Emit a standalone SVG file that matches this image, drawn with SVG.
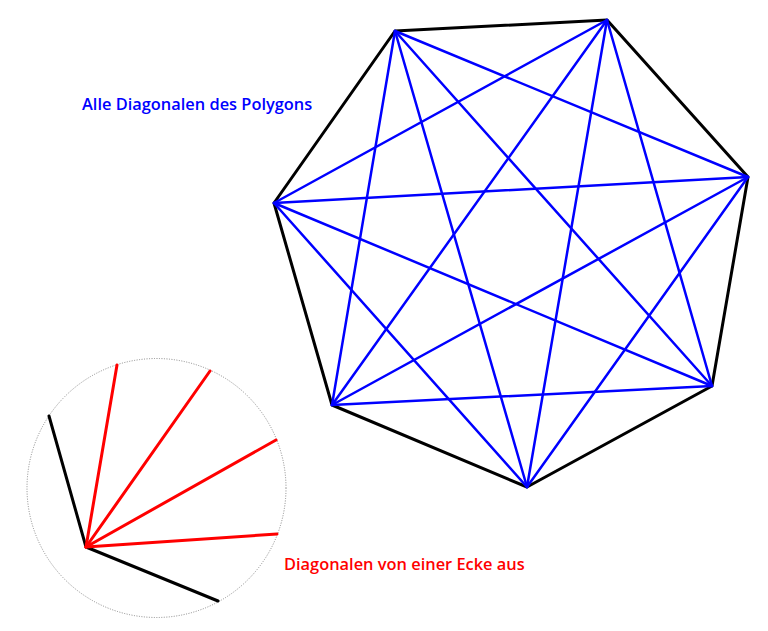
<svg xmlns="http://www.w3.org/2000/svg" width="768" height="631" viewBox="0 0 768 631">
<style>
.edge{stroke:#000;stroke-width:3;fill:none;stroke-linecap:round;stroke-linejoin:round}
.diag{stroke:#0000ff;stroke-width:2.5;stroke-linecap:round}
.red{stroke:#ff0000;stroke-width:3;stroke-linecap:round}
.lbl{font-family:"Open Sans","Liberation Sans",sans-serif;font-weight:600;font-size:16.4px}
</style>
<rect width="768" height="631" fill="#fff"/>
<g id="polygon">
<polygon class="edge" points="395,31 607,20 748,177 712,386 527,487 332,405 274,203"/>
</g>
<g id="connectors">
<line class="diag" x1="395" y1="31" x2="748" y2="177"/>
<line class="diag" x1="395" y1="31" x2="712" y2="386"/>
<line class="diag" x1="395" y1="31" x2="527" y2="487"/>
<line class="diag" x1="395" y1="31" x2="332" y2="405"/>
<line class="diag" x1="607" y1="20" x2="712" y2="386"/>
<line class="diag" x1="607" y1="20" x2="527" y2="487"/>
<line class="diag" x1="607" y1="20" x2="332" y2="405"/>
<line class="diag" x1="607" y1="20" x2="274" y2="203"/>
<line class="diag" x1="748" y1="177" x2="527" y2="487"/>
<line class="diag" x1="748" y1="177" x2="332" y2="405"/>
<line class="diag" x1="748" y1="177" x2="274" y2="203"/>
<line class="diag" x1="712" y1="386" x2="332" y2="405"/>
<line class="diag" x1="712" y1="386" x2="274" y2="203"/>
<line class="diag" x1="527" y1="487" x2="274" y2="203"/>
</g>
<g id="detail">
<circle cx="156.5" cy="488" r="129.5" fill="none" stroke="#888" stroke-width="1" stroke-dasharray="1,1.5"/>
<polyline class="edge" points="49,416 86,547 218,601"/>
<line class="red" x1="86" y1="547" x2="117" y2="365"/>
<line class="red" x1="86" y1="547" x2="210" y2="371"/>
<line class="red" x1="86" y1="547" x2="276" y2="440"/>
<line class="red" x1="86" y1="547" x2="277" y2="534"/>
</g>
<text class="lbl" x="82" y="110" fill="#0000ff">Alle Diagonalen des Polygons</text>
<text class="lbl" x="284" y="570" fill="#ff0000">Diagonalen von einer Ecke aus</text>
</svg>
